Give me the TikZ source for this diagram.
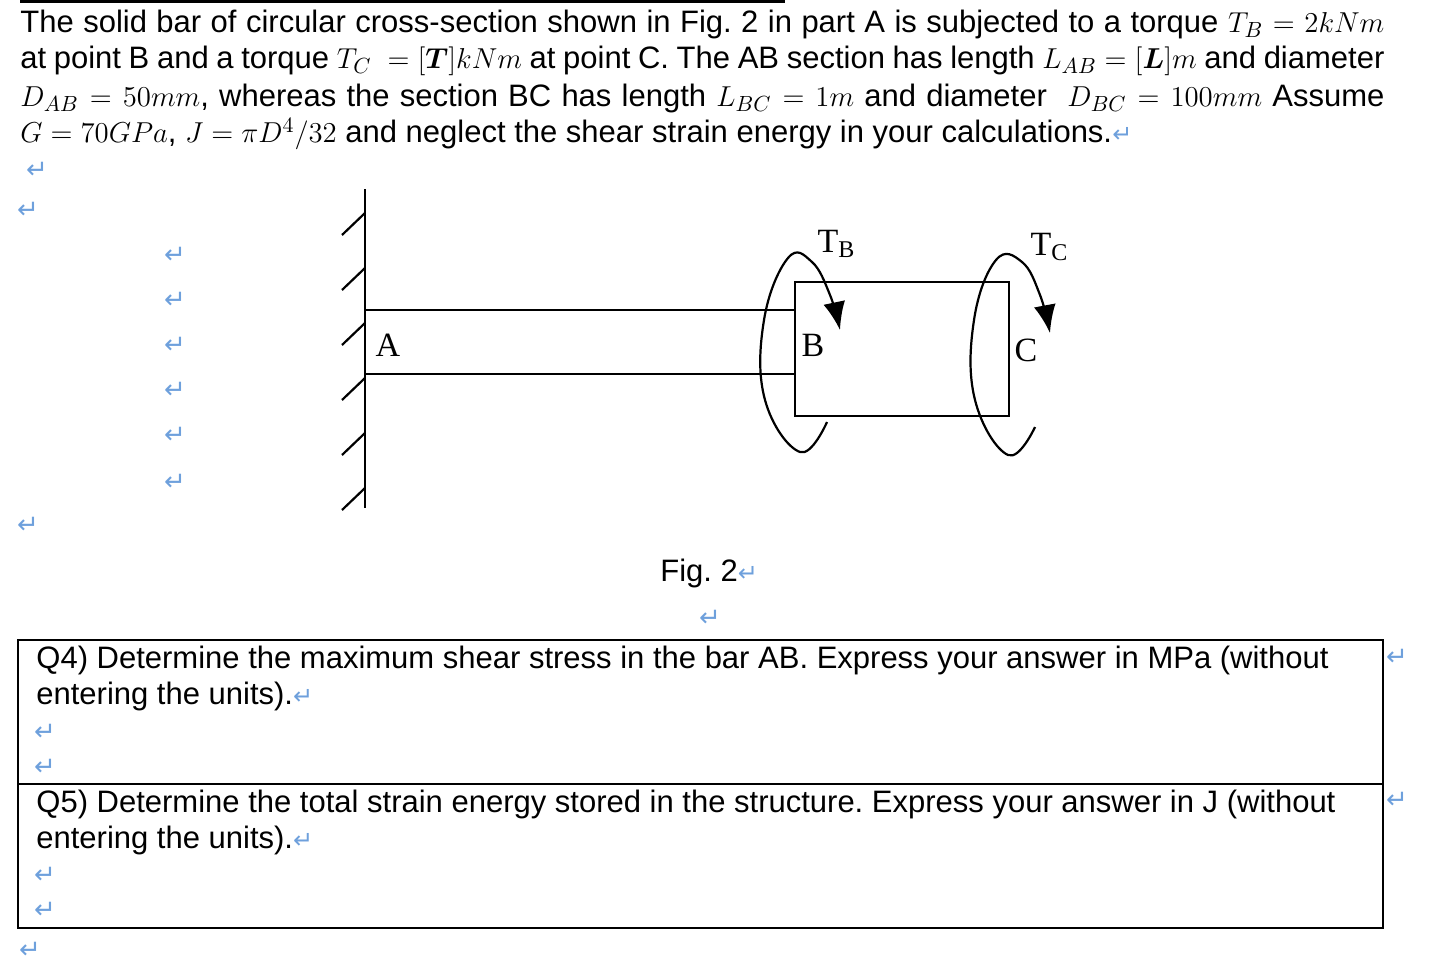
\documentclass[tikz,border=0pt]{standalone}
\usepackage{bm}
\usepackage{fontspec}
\setmainfont{Liberation Sans}
\newfontfamily\fig{Liberation Serif}
\newfontfamily\dv{DejaVu Sans}
\usetikzlibrary{arrows.meta}
\definecolor{mk}{RGB}{110,160,220}
\newcommand{\rt}{{\dv\color{mk}\fontsize{12}{12}\selectfont ↵}}
\frenchspacing
\begin{document}
\begin{tikzpicture}[x=0.5pt,y=-0.5pt,
  txt/.style={anchor=west,inner sep=0,font=\fontsize{15.5}{18}\selectfont},
  retmark/.style={inner sep=0,font=\dv\color{mk}\fontsize{13}{13}\selectfont},
  ln/.style={line width=1.1pt},
  lab/.style={inner sep=0,font=\fig\fontsize{17}{17}\selectfont}]
\useasboundingbox (0,0) rectangle (1444,964);
\draw[line width=1.6pt] (20,1) -- (785,1);
\node[txt] (l1) at (20,24) {\makebox[682pt][s]{The solid bar of circular cross-section shown in Fig. 2 in part A is subjected to a torque $T_B = 2kNm$}};
\node[txt] (l2) at (20,61) {\makebox[682pt][s]{at point B and a torque $T_C\;=[\bm{T}]kNm$ at point C. The AB section has length $L_{AB}=[\bm{L}]m$ and diameter}};
\node[txt] (l3) at (20,98) {\makebox[682pt][s]{$D_{AB}=50mm$, whereas the section BC has length $L_{BC}=1m$ and diameter \ $D_{BC}=100mm$ Assume}};
\node[txt] (l4) at (20,134) {$G=70GPa$, $J=\pi D^4/32$ and neglect the shear strain energy in your calculations.\rt};
\foreach \i/\x/\y in {a/37/170,b/28/210,c/175/255,d/175/300,e/175/345,f/175/390,g/175/435,h/175/482,i/28/525,j/710/618,k/45/732,l/45/767,m/45/875,n/45/910,o/30/950,p/1397/657,q/1397/800}
  \node[retmark] (m\i) at (\x,\y) {↵};
% figure
\coordinate (w1) at (365,189); \coordinate (w2) at (365,508);
\draw[ln] (w1) -- (w2);
\foreach \y in {213,268,323,378,433,488} \draw[ln] (365,\y) -- ++(-23,22);
\draw[ln] (365,310) rectangle (795,374);
\draw[ln] (795,282) rectangle (1009,416);
\node[lab] (A) at (388,345) {A};
\node[lab] (B) at (813,345) {B};
\node[lab] (C) at (1026,350) {C};
\node[lab] (TB) at (836,244) {T\raisebox{-0.3ex}{\fontsize{12}{12}\selectfont B}};
\node[lab] (TC) at (1049,247) {T\raisebox{-0.3ex}{\fontsize{12}{12}\selectfont C}};
\draw[ln,-{Latex[length=14pt,width=11pt]}] plot[smooth,tension=0.7] coordinates {(827,422) (800,452) (765,400) (764,320) (788,258) (812,262) (830,295) (840,330)};
\draw[ln,-{Latex[length=14pt,width=11pt]}] plot[smooth,tension=0.7] coordinates {(1035,427) (1008,455) (975,400) (974,320) (996,260) (1022,262) (1040,295) (1050,333)};
\node[txt] (fig) at (660,573) {Fig. 2\rt};
% table
\draw[line width=0.9pt] (18,640) rectangle (1383,928);
\draw[line width=0.9pt] (18,784) -- (1383,784);
\node[txt] (q4a) at (36,660) {Q4) Determine the maximum shear stress in the bar AB. Express your answer in MPa (without};
\node[txt] (q4b) at (36,696) {entering the units).\rt};
\node[txt] (q5a) at (36,804) {Q5) Determine the total strain energy stored in the structure. Express your answer in J (without};
\node[txt] (q5b) at (36,840) {entering the units).\rt};
\end{tikzpicture}
\end{document}
